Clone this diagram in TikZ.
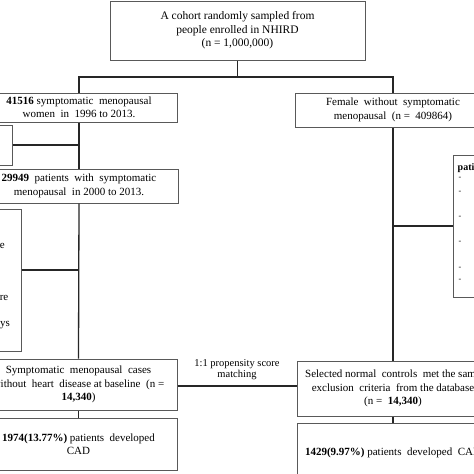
\documentclass[tikz,border=0pt]{standalone}
\usepackage{fontspec}
\setmainfont{Liberation Serif}
\begin{document}
\begin{tikzpicture}[x=1pt,y=-1pt,
  box/.style={draw=black!65,line width=1pt,fill=white,align=center,inner sep=0pt,
    font=\fontsize{11}{13.5}\selectfont},
  conn/.style={draw=black!85,line width=1.3pt},
  frag/.style={inner sep=0pt,font=\fontsize{11}{13.5}\selectfont}]
\useasboundingbox (0,0) rectangle (474,474);
\clip (0,0) rectangle (474,474);
\fill[white] (0,0) rectangle (474,474);
% boxes
\node[box,minimum width=255pt,minimum height=59pt,font=\fontsize{11.5}{13.5}\selectfont] (top) at (237.5,30.5)
  {A cohort randomly sampled from\\people enrolled in NHIRD\\(n = 1,000,000)};
\node[box,minimum width=196pt,minimum height=29pt] (b1) at (79,107.5)
  {\textbf{41516} symptomatic\ \ menopausal\\women\ \ in\ \ 1996 to 2013.};
\node[box,minimum width=52pt,minimum height=40pt] (small) at (-14,145) {};
\node[box,minimum width=198pt,minimum height=34pt] (b2) at (79,186)
  {\textbf{29949}\ \ patients\ \ with\ \ symptomatic\\menopausal\ \ in 2000 to 2013.};
\node[box,minimum width=141pt,minimum height=142pt] (exL) at (-49.5,280) {};
\node[frag,anchor=base east] (fe) at (5,248) {e};
\node[frag,anchor=base east] (fre) at (8.5,300) {re};
\node[frag,anchor=base east] (fys) at (10,326) {ys};
\node[box,minimum width=197pt,minimum height=51pt] (cases) at (78.5,384.5)
  {Symptomatic\ \ menopausal\ \ cases\\without\ \ heart\ \ disease at baseline\ \ (n =\\\textbf{14,340})};
\node[box,minimum width=197pt,minimum height=52pt] (cadL) at (78.5,444)
  {\textbf{1974(13.77\%)} patients\ \ developed\\CAD};
\node[box,minimum width=196pt,minimum height=34pt] (fem) at (393,110)
  {Female\ \ without\ \ symptomatic\\menopausal\ \ (n = \ 409864)};
\node[box,minimum width=150pt,minimum height=142pt] (exR) at (528,226) {};
\node[frag,anchor=base west,font=\fontsize{10}{12}\selectfont\bfseries] (fpat) at (457.5,170) {pati};
\foreach \yy [count=\i] in {178,192,217,242,268,280}
  \node[frag,anchor=center,font=\fontsize{8}{10}\selectfont] (d\i) at (460,\yy) {-};
\node[box,minimum width=192pt,minimum height=55pt] (sel) at (393,388.5)
  {Selected normal\ \ controls\ \ met the same\\exclusion\ \ criteria\ \ from the database\\(n = \ \textbf{14,340})};
\node[box,minimum width=192pt,minimum height=60pt] (cadR) at (393,453)
  {\textbf{1429(9.97\%)} patients\ \ developed\ \ CAD};
% connectors
\coordinate (split) at (237.5,77);
\draw[conn] (top.south) -- (split);
\draw[conn] (b1.north) |- (split);
\draw[conn] (fem.north) |- (split);
\draw[conn] (b1.south) -- (b2.north);
\draw[conn] (small.east) -- (small.east -| b1.south);
\draw[conn] (b2.south) -- (cases.north);
\draw[conn] (exL.east) ++(0,-10) coordinate (exLc) -- (exLc -| b2.south);
\draw[conn] (cases.south) -- (cadL.north);
\coordinate (mL) at ([yshift=-1.5pt]cases.east);
\draw[conn] (mL) -- (mL -| sel.west) node[midway,above=2pt,align=center,
  font=\fontsize{10.5}{11}\selectfont] (lab) {1:1 propensity score\\matching};
\draw[conn] (fem.south) -- (sel.north);
\draw[conn] (exR.west) -- (exR.west -| fem.south);
\draw[conn] (sel.south) -- (cadR.north);
\end{tikzpicture}
\end{document}
